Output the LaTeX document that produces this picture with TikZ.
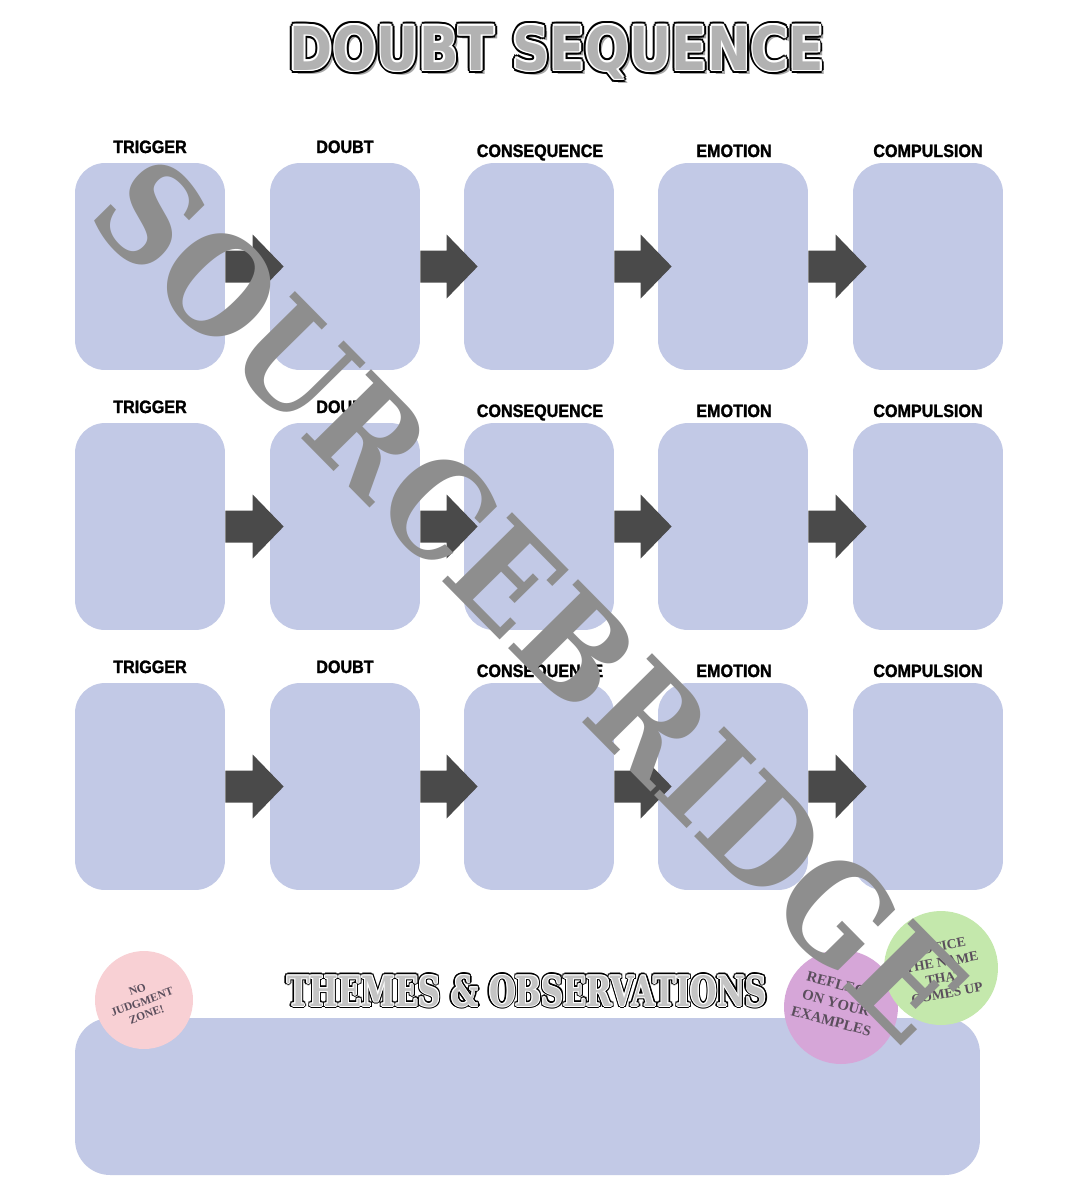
\documentclass[tikz,border=0pt]{standalone}
\usepackage{fontspec}
\setmainfont{Liberation Sans}
\newfontfamily\titlefont{DejaVu Sans}
\newfontfamily\slabfont{DejaVu Serif}
\newfontfamily\circfont{Liberation Serif}
\newfontfamily\labelfont[FakeBold=1.6]{Liberation Sans Bold}
\usetikzlibrary{calc}
\definecolor{boxblue}{HTML}{C2C9E6}
\definecolor{arrowgray}{HTML}{4A4A4A}
\definecolor{wmgray}{HTML}{8E8E8E}
\definecolor{pinkc}{HTML}{F8D0D4}
\definecolor{purplec}{HTML}{D6A6D8}
\definecolor{greenc}{HTML}{C4E8AC}
\definecolor{circtxt}{HTML}{5A4E5C}
\definecolor{titlegray}{HTML}{B2B2B2}
\definecolor{themegray}{HTML}{C4C4C4}
\tikzset{
  stagebox/.style={fill=boxblue, draw=none, rounded corners=0.6cm, minimum width=3cm, minimum height=4.14cm, inner sep=0pt},
  stagelabel/.style={anchor=base, inner sep=0pt, font=\labelfont\fontsize{10.2}{12}\selectfont},
  flowarrow/.style={fill=arrowgray, draw=none},
  stickerdot/.style={circle, draw=none, inner sep=0pt},
  stickertext/.style={align=center, inner sep=0pt, text=circtxt},
}
\newcommand\stagearrow[2]{%
  \fill[flowarrow] ($(#1.east)+(0,-16)$) -- ($(#2.west)+(-17,-16)$) -- ($(#2.west)+(-17,-32)$)
    -- ($(#2.west)+(14,0)$) -- ($(#2.west)+(-17,32)$) -- ($(#2.west)+(-17,16)$) -- ($(#1.east)+(0,16)$) -- cycle;}
% #1 name, #2 position, #3 content, #4 width, #5 height, #6 fill colour, #7 outline radius, #8 inner ring colour
\newcommand\outlinetext[8]{%
  \foreach \a in {0,30,...,330}{\node[anchor=base,inner sep=0pt,text=black] (#1o\a) at ($(#2)+(\a:#7)$) {\resizebox{#4}{#5}{#3}};}
  \foreach \a in {0,45,...,315}{\node[anchor=base,inner sep=0pt,text=#8] (#1w\a) at ($(#2)+(\a:#7*0.45)$) {\resizebox{#4}{#5}{#3}};}
  \node[anchor=base,inner sep=0pt,text=#6] (#1) at (#2) {\resizebox{#4}{#5}{#3}};
}
\begin{document}
\begin{tikzpicture}[x=0.02cm,y=-0.02cm]
\path[use as bounding box] (0,0) rectangle (1080,1184);
\fill[white] (0,0) rectangle (1080,1184);

% title
\node[anchor=base,inner sep=0pt,text=black,opacity=0.35] (titleshadow) at (561,74) {\resizebox{10.7cm}{0.9cm}{\titlefont\bfseries DOUBT SEQUENCE}};
\outlinetext{title}{557,70}{\titlefont\bfseries DOUBT SEQUENCE}{10.7cm}{0.9cm}{titlegray}{3.5}{white}

% boxes
\foreach \r/\yc in {1/266.5,2/526.5,3/786.5}{
  \foreach \c/\xc in {1/150,2/345,3/539,4/733,5/928}{
    \node[stagebox] (b\r\c) at (\xc,\yc) {};
  }
}
% labels
\foreach \r/\yt in {1/163,2/423,3/683}{
  \node[stagelabel] (l\r1) at (150,\yt-10) {\scalebox{0.9}[1]{TRIGGER}};
  \node[stagelabel] (l\r2) at (345,\yt-10) {\scalebox{0.9}[1]{DOUBT}};
  \node[stagelabel] (l\r3) at (540,\yt-6) {\scalebox{0.9}[1]{CONSEQUENCE}};
  \node[stagelabel] (l\r4) at (734,\yt-6) {\scalebox{0.9}[1]{EMOTION}};
  \node[stagelabel] (l\r5) at (928,\yt-6) {\scalebox{0.9}[1]{COMPULSION}};
}
% arrows
\foreach \r in {1,2,3}{
  \stagearrow{b\r1}{b\r2}
  \stagearrow{b\r2}{b\r3}
  \stagearrow{b\r3}{b\r4}
  \stagearrow{b\r4}{b\r5}
}

% themes box
\node[fill=boxblue, draw=none, rounded corners=0.7cm, minimum width=18.1cm, minimum height=3.14cm, inner sep=0pt] (notes) at (527.5,1096.5) {};
\outlinetext{themes}{527,1006}{\slabfont\bfseries THEMES \& OBSERVATIONS}{9.6cm}{0.62cm}{themegray}{2.2}{white}

% stickers
\node[stickerdot, fill=pinkc, minimum size=1.96cm] (pinkdot) at (144,1000) {};
\node[stickertext, rotate=20, font=\circfont\bfseries\fontsize{6.5}{7.6}\selectfont] (pinktext) at (142,1002) {NO\\JUDGMENT\\ZONE!};
\node[stickerdot, fill=purplec, minimum size=2.28cm] (purpledot) at (841,1007) {};
\node[stickertext, rotate=-15, font=\circfont\bfseries\fontsize{8.4}{10.6}\selectfont] (purpletext) at (836,1003) {REFLECT\\ON YOUR\\EXAMPLES};
\node[stickerdot, fill=greenc, minimum size=2.28cm] (greendot) at (941,968) {};
\node[stickertext, rotate=10, font=\circfont\bfseries\fontsize{7.8}{9}\selectfont] (greentext) at (943,970) {NOTICE\\THE NAME\\THAT\\COMES UP};

% watermark
\node[text=wmgray, rotate=-45.4, inner sep=0pt] (watermark) at (530,600) {\resizebox{23.4cm}{2.0cm}{\slabfont\bfseries SOURCEBRIDGE}};
\end{tikzpicture}
\end{document}
